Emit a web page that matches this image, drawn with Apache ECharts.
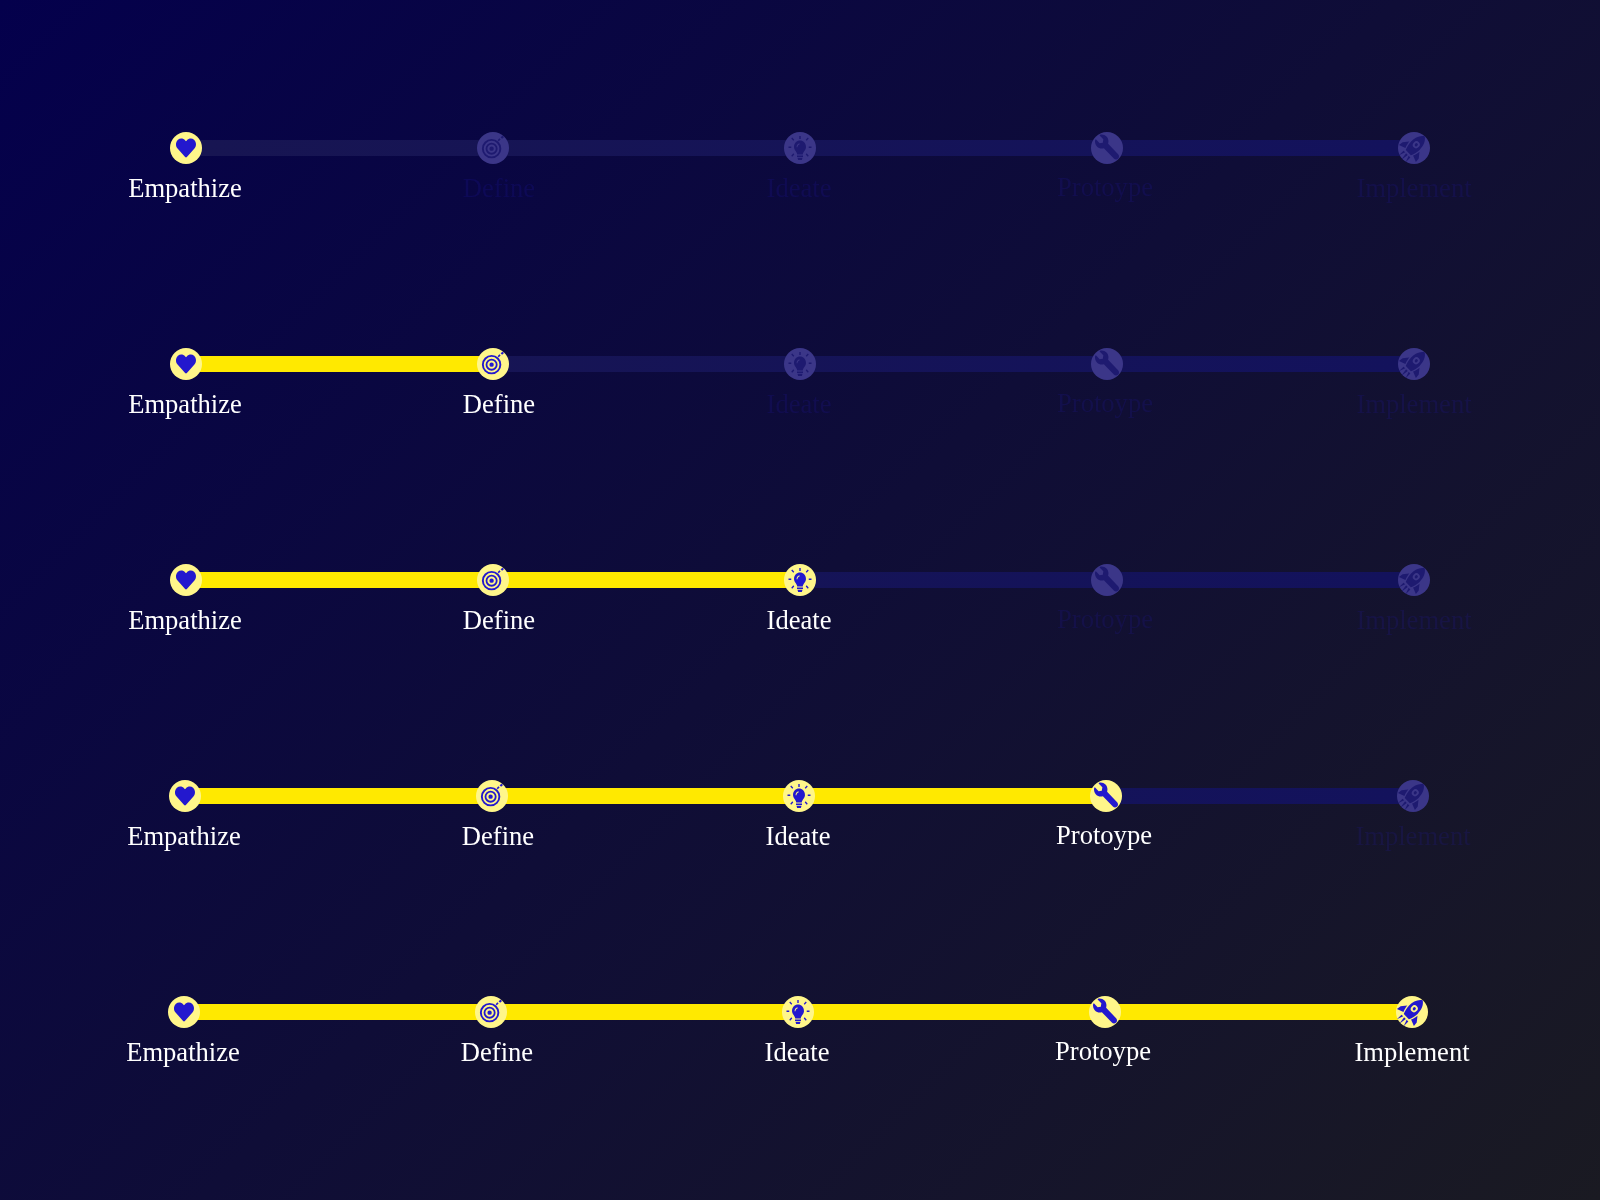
<!DOCTYPE html>
<html><head><meta charset="utf-8">
<style>html,body{margin:0;padding:0;background:#0d0b3c}#c{width:1600px;height:1200px}</style>
<script src="https://cdn.jsdelivr.net/npm/echarts@6/dist/echarts.min.js"></script>
</head><body><div id="c"></div>
<script>
const stages = ['Empathize','Define','Ideate','Protoype','Implement'];
const rowStagesDone = [1,2,3,4,5];
const baseline = [0,0,0,0,0];

const W=1600,H=1200;
const rowShift=[0,0,0,-1,-2];
const rowY=i=>148+216*i, rowX=i=>186+rowShift[i];
const labelNudge=[[-1,42],[6,42],[-1,42],[-2,41],[0,42]];
const FONT='"Liberation Serif"';
const ICONS=[
 {p:'path://M462.3 62.6C407.5 15.9 326 24.3 275.7 76.2L256 96.5l-19.7-20.3C186.1 24.3 104.5 15.9 49.7 62.6c-62.8 53.6-66.1 149.8-9.9 207.9l193.5 199.8c12.5 12.9 32.8 12.9 45.3 0l193.5-199.8c56.3-58.1 53-154.3-9.8-207.9z',s:[20,19],o:[0,0],r:0},
 {p:'path://M3 130a97 97 0 1 1 194 0a97 97 0 1 1 -194 0z M22 130a78 78 0 1 0 156 0a78 78 0 1 0 -156 0z M40 130a60 60 0 1 1 120 0a60 60 0 1 1 -120 0z M58 130a42 42 0 1 0 84 0a42 42 0 1 0 -84 0z M78 130a22 22 0 1 1 44 0a22 22 0 1 1 -44 0z M160 45L178 27L190 39L172 57z M190 17L208 0L225 14L205 32z',s:[22.2,22.7],o:[0,-1],r:0},
 {p:'path://M50 18C36 18 24 28 24 43C24 55 36 60 38 72L62 72C64 60 76 55 76 43C76 28 64 18 50 18z M35 44C35 35 41 30 48 28L48 33C43 34 39 38 39 44z M37 76L63 76L63 82L37 82z M39 85L61 85L58 94L42 94z M47 0L53 0L53 12L47 12z M0 41L12 41L12 47L0 47z M88 41L100 41L100 47L88 47z M12 10L16 6L25 15L21 19z M84 6L88 10L79 19L75 15z M12 77L21 68L25 72L16 81z M75 72L79 68L88 77L84 81z',s:[23,24],o:[0,0],r:0},
 {p:'path://M4.27 109.1c2.24-9.03 13.54-12.09 20.12-5.51l74.36 74.36 67.88-11.31 11.31-67.88-74.36-74.36c-6.62-6.62-3.43-17.9 5.66-20.16 47.38-11.74 99.55.91 136.58 37.93 39.64 39.64 50.55 97.1 34.05 147.2L493.26 402.76c24.99 24.99 24.99 65.51 0 90.5-24.99 24.99-65.51 24.99-90.5 0l-213.21-213.21c-50.12 16.71-107.47 5.68-147.37-34.22-37.07-37.07-49.7-89.32-37.91-136.73z',s:[24,25],o:[0,-1],r:0},
 {p:'path://M40 0C54 8 60 24 60 40C60 52 56 62 52 70L28 70C24 62 20 52 20 40C20 24 26 8 40 0z M40 25a11 11 0 1 0 0 22a11 11 0 1 0 0 -22z M40 31a5 5 0 1 1 0 10a5 5 0 1 1 0 -10z M16 44L2 60L0 74L22 66C19 60 17 52 16 44z M64 44L78 60L80 74L58 66C61 60 63 52 64 44z M36 76L44 76L40 100z M24 76L32 76L24 96z M48 76L56 76L56 96z',s:[24,33],o:[-1,0],r:-45}
];
const Y='#FFE900', CIRC='#FFF68A', BLUE='#2318CE';
const DIM_CIRC='#3B3688', DIM_ICON='#1E1A70', DIM_TEXT='rgba(40,30,210,0.14)';
const dimGrad=new echarts.graphic.LinearGradient(200,0,1400,0,[{offset:0,color:'#171552'},{offset:1,color:'#13125C'}],true);
const bg=new echarts.graphic.LinearGradient(100,-100,1500,1300,[{offset:0,color:'#04004C'},{offset:1,color:'#1A1A22'}],true);

const grid=[],xAxis=[],yAxis=[],series=[];
rowStagesDone.forEach((done,i)=>{
  grid.push({left:rowX(i),top:rowY(i)-20,width:1228,height:40,containLabel:false});
  xAxis.push({gridIndex:i,type:'category',data:stages,boundaryGap:false,show:false});
  yAxis.push({gridIndex:i,type:'value',min:-1,max:1,show:false});
  const common={xAxisIndex:i,yAxisIndex:i,silent:true,animation:false};
  series.push({...common,type:'line',z:1,symbol:'none',data:baseline,lineStyle:{width:16,color:dimGrad,cap:'butt'}});
  series.push({...common,type:'line',z:2,symbol:'none',data:baseline.map((v,k)=>k<done?v:null),lineStyle:{width:16,color:Y,cap:'butt'}});
  series.push({...common,type:'scatter',z:3,symbol:'circle',symbolSize:32,
    data:baseline.map((v,k)=>({value:[k,v],itemStyle:{color:k<done?CIRC:DIM_CIRC,opacity:1},
      label:{show:true,position:'inside',offset:labelNudge[k],formatter:stages[k],fontFamily:FONT,fontSize:26.6,color:k<done?'#FFFFFF':DIM_TEXT}}))});
  stages.forEach((name,k)=>{
    series.push({...common,type:'scatter',z:4,symbol:ICONS[k].p,symbolSize:ICONS[k].s,symbolOffset:ICONS[k].o,symbolRotate:ICONS[k].r,
      itemStyle:{color:k<done?BLUE:DIM_ICON,opacity:1},data:[[k,baseline[k]]]});
  });
});
const chart=echarts.init(document.getElementById('c'),null,{renderer:'canvas',width:W,height:H});
chart.setOption({backgroundColor:bg,animation:false,grid,xAxis,yAxis,series});
</script></body></html>
